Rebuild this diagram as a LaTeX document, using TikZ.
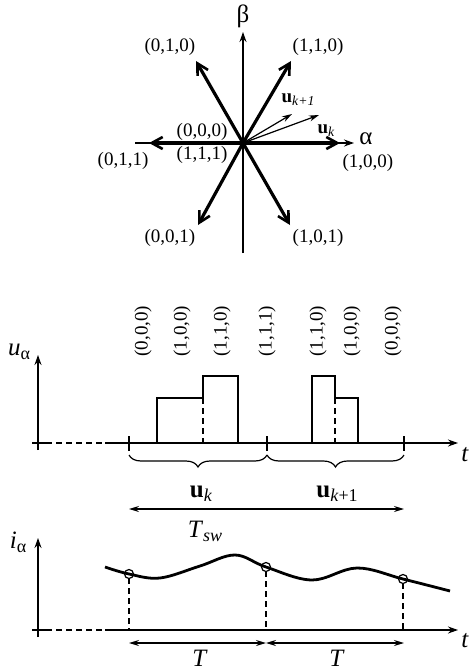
\documentclass[tikz,border=0pt]{standalone}
\usepackage{fontspec}
\setmainfont{Liberation Serif}
\usetikzlibrary{arrows.meta,decorations.pathreplacing,calc}
\newcommand{\sbs}[1]{\raisebox{-0.35ex}{\fontsize{0.72em}{1em}\selectfont #1}}
\begin{document}
\begin{tikzpicture}[x=0.5pt,y=-0.5pt,
  lab/.style={font=\fontsize{9.5}{11}\selectfont, inner sep=0pt},
  big/.style={font=\fontsize{12.5}{14}\selectfont, inner sep=0pt},
  vec/.style={line width=1.6pt, -{Straight Barb[length=5.5pt,width=6pt,line width=1.3pt]}},
  axis/.style={line width=0.6pt, -{Stealth[length=5pt,width=3.5pt]}},
  thin/.style={line width=0.6pt},
  wave/.style={line width=1.4pt},
  dsh/.style={line width=0.6pt, dash pattern=on 3pt off 2pt},
  brc/.style={line width=0.6pt, decorate, decoration={brace, amplitude=6pt}},
  dim/.style={line width=0.6pt, {Stealth[length=5pt,width=3pt]}-{Stealth[length=5pt,width=3pt]}}]
\useasboundingbox (0,0) rectangle (474,671);
% ---------- space vector diagram ----------
\coordinate (O) at (243,143);
\coordinate (btop) at (243,32); \coordinate (bbot) at (243,253);
\coordinate (aleft) at (135,143); \coordinate (aright) at (354,143);
\draw[axis] (bbot) -- (btop);
\draw[axis] (aleft) -- (aright);
\node[big] (beta) at (243,16) {β};
\node[big] (alpha) at (366,139) {α};
\coordinate (v100) at (340,143);
\coordinate (v110) at (291,61);
\coordinate (v010) at (196,61);
\coordinate (v011) at (149,143);
\coordinate (v001) at (198,225);
\coordinate (v101) at (290,225);
\foreach \v in {v100,v110,v010,v011,v001,v101} \draw[vec] (O) -- (\v);
\fill (O) circle (3.5);
\coordinate (uk1) at (292,114);
\coordinate (uk) at (319,115);
\draw[thin,-{Stealth[length=5pt,width=3pt]}] (O) -- (uk1);
\draw[thin,-{Stealth[length=5pt,width=3pt]}] (O) -- (uk);
\node[lab] (luk1) at (298,100) {\textbf{u}\sbs{\textit{k+1}}};
\node[lab] (luk) at (326,131) {\textbf{u}\sbs{\textit{k}}};
\node[lab] (l010) at (170,47) {(0,1,0)};
\node[lab] (l110) at (318,47) {(1,1,0)};
\node[lab] (l011) at (123,161) {(0,1,1)};
\node[lab] (l100) at (368,163) {(1,0,0)};
\node[lab] (l001) at (170,238) {(0,0,1)};
\node[lab] (l101) at (318,238) {(1,0,1)};
\node[lab] (l000) at (202,132) {(0,0,0)};
\node[lab] (l111) at (202,155) {(1,1,1)};
% ---------- u_alpha waveform ----------
\coordinate (uatop) at (38,355);
\draw[axis] (38,450) -- (uatop);
\draw[thin] (32,443) -- (46,443);
\draw[dsh] (46,443) -- (105,443);
\coordinate (tend) at (458,443);
\draw[axis] (105,443) -- (tend);
\node[big] (lua) at (19,352) {\textit{u}\sbs{α}};
\node[big] (lt1) at (465,455) {\textit{t}};
\foreach \x in {129,267,404} \draw[thin] (\x,436) -- (\x,451);
\draw[wave] (105,443) -- (157,443) -- (157,398) -- (203,398) -- (203,376) -- (238,376) -- (238,443)
  -- (312,443) -- (312,376) -- (335,376) -- (335,398) -- (358,398) -- (358,443) -- (404,443);
\draw[dsh] (203,398) -- (203,443);
\draw[dsh] (335,398) -- (335,443);
\foreach \x/\t/\n in {143/{(0,0,0)}/s1,182/{(1,0,0)}/s2,222/{(1,1,0)}/s3,267/{(1,1,1)}/s4,318/{(1,1,0)}/s5,352/{(1,0,0)}/s6,393/{(0,0,0)}/s7}
  \node[lab,rotate=90] (\n) at (\x,331) {\t};
\coordinate (b1) at (129,455); \coordinate (b2) at (267,455); \coordinate (b3) at (404,455);
\draw[brc] (b2) -- (b1);
\draw[brc] (b3) -- (b2);
\node[big] (luk2) at (201,494) {\textbf{u}\sbs{\textit{k}}};
\node[big] (luk12) at (337,494) {\textbf{u}\sbs{\textit{k}+1}};
\coordinate (tsw1) at (129,509); \coordinate (tsw2) at (404,509);
\draw[dim] (tsw1) -- (tsw2);
\node[big] (ltsw) at (205,531) {\textit{T}\sbs{\textit{sw}}};
% ---------- i_alpha ----------
\coordinate (iatop) at (38,538);
\draw[axis] (38,637) -- (iatop);
\draw[thin] (32,630) -- (46,630);
\draw[dsh] (46,630) -- (105,630);
\coordinate (tend2) at (458,630);
\draw[axis] (105,630) -- (tend2);
\node[big] (lia) at (18,542) {\textit{i}\sbs{α}};
\node[big] (lt2) at (465,641) {\textit{t}};
\coordinate (c1) at (129,574); \coordinate (c2) at (266,567); \coordinate (c3) at (403,579);
\draw[wave] plot[smooth,tension=0.6] coordinates {(105,567) (129,574) (160,578) (200,566) (235,555) (266,567) (312,580) (357,568) (403,579) (450,591)};
\foreach \c in {c1,c2,c3} \draw[thin] (\c) circle (4.5);
\draw[dsh] (129,578) -- (129,630);
\draw[dsh] (266,571) -- (266,630);
\draw[dsh] (403,583) -- (403,630);
\coordinate (d1) at (129,643); \coordinate (d2) at (266,643); \coordinate (d3) at (404,643);
\draw[dim] (d1) -- (d2);
\draw[dim] (d2) -- (d3);
\node[big] (lT1) at (200,658) {\textit{T}};
\node[big] (lT2) at (337,658) {\textit{T}};
\end{tikzpicture}
\end{document}
